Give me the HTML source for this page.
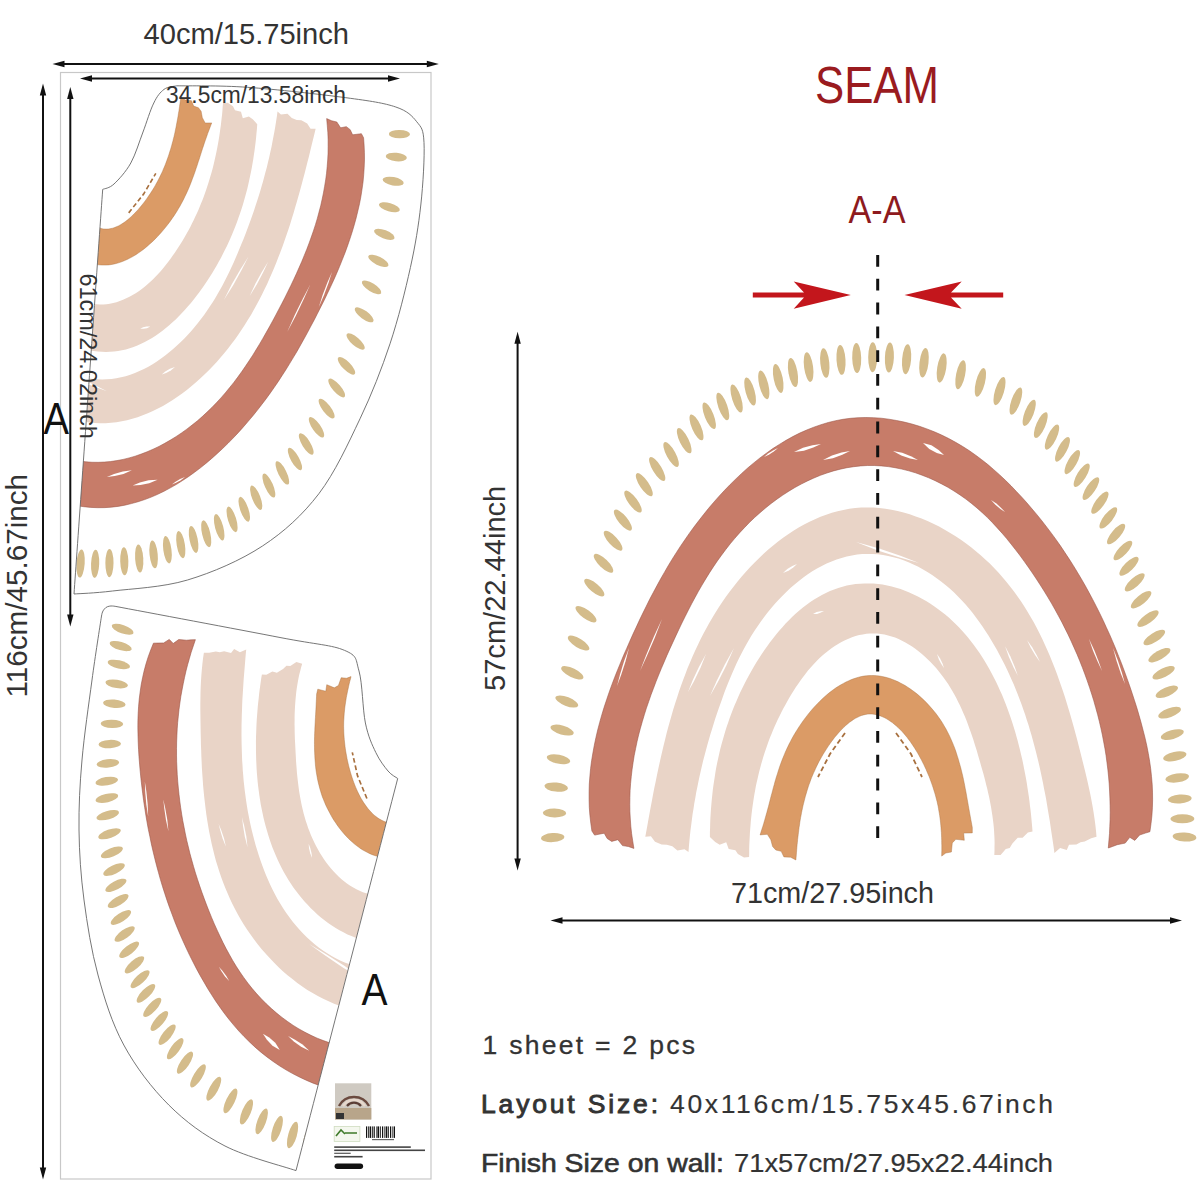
<!DOCTYPE html><html><head><meta charset="utf-8"><style>
html,body{margin:0;padding:0;background:#fff;width:1200px;height:1200px;overflow:hidden}
svg{display:block}
text{font-family:"Liberation Sans",sans-serif;}
</style></head><body>
<svg width="1200" height="1200" viewBox="0 0 1200 1200">
<rect width="1200" height="1200" fill="#fff"/>
<defs>
<g id="rb"><path d="M591.9 831 L590.8 823.2 L589.9 815.3 L589.3 807.5 L589.1 799.6 L589.1 791.8 L589.3 784 L589.9 776.2 L590.6 768.5 L591.6 760.7 L592.9 753 L594.3 745.3 L595.9 737.7 L597.7 730 L599.7 722.4 L601.8 714.9 L604.1 707.3 L606.6 699.8 L609.1 692.4 L611.8 684.9 L614.6 677.5 L617.5 670.2 L620.5 662.9 L623.5 655.6 L626.7 648.4 L629.8 641.3 L633 634.1 L636.3 627.1 L639.5 620.1 L642.9 613.1 L646.3 606.2 L649.7 599.3 L653.3 592.5 L656.9 585.8 L660.6 579 L664.4 572.4 L668.2 565.8 L672.2 559.2 L676.3 552.7 L680.5 546.2 L684.9 539.8 L689.3 533.4 L693.9 527.1 L698.7 520.8 L703.6 514.5 L708.6 508.3 L713.8 502.2 L719.1 496.2 L724.6 490.3 L730.2 484.5 L735.9 478.9 L741.7 473.4 L747.7 468 L753.8 462.9 L760 457.9 L766.4 453.2 L772.8 448.6 L779.4 444.4 L786.1 440.3 L792.8 436.6 L799.7 433.1 L806.7 430 L813.8 427.2 L821 424.7 L828.2 422.5 L835.6 420.7 L843 419.3 L850.5 418.3 L858.1 417.7 L865.8 417.5 L873.5 417.7 L881.2 418.2 L888.9 419.2 L896.6 420.5 L904.3 422.1 L911.9 424 L919.5 426.3 L926.9 428.9 L934.3 431.8 L941.6 435 L948.7 438.5 L955.6 442.3 L962.4 446.3 L969 450.5 L975.4 455 L981.7 459.7 L987.9 464.6 L993.8 469.7 L999.7 474.9 L1005.4 480.3 L1011 485.8 L1016.4 491.5 L1021.8 497.2 L1027 503 L1032.1 509 L1037.1 514.9 L1042 521 L1046.8 527.2 L1051.5 533.4 L1056.1 539.7 L1060.6 546.1 L1064.9 552.6 L1069.2 559.1 L1073.4 565.7 L1077.4 572.3 L1081.4 579 L1085.3 585.8 L1089 592.6 L1092.7 599.5 L1096.3 606.5 L1099.8 613.5 L1103.2 620.5 L1106.4 627.6 L1109.7 634.7 L1112.8 641.9 L1115.8 649.1 L1118.7 656.4 L1121.6 663.7 L1124.3 671 L1127 678.4 L1129.6 685.8 L1132.1 693.2 L1134.5 700.6 L1136.9 708.1 L1139.1 715.6 L1141.2 723.1 L1143.2 730.7 L1145.1 738.2 L1146.8 745.8 L1148.3 753.5 L1149.6 761.1 L1150.7 768.8 L1151.5 776.5 L1152.2 784.3 L1152.5 792.1 L1152.6 799.9 L1152.4 807.8 L1151.9 815.7 L1151 823.7 L1149.9 831.7 L1145.4 833.1 L1139.6 835 L1134.8 840.4 L1129.8 837.3 L1125.2 843.1 L1117.2 844.7 L1112.5 846.5 L1108.3 848 L1108.9 840.8 L1109.5 833.7 L1109.8 826.5 L1110.1 819.4 L1110.2 812.3 L1110.1 805.2 L1109.9 798.1 L1109.6 791 L1109.2 783.9 L1108.6 776.9 L1107.9 769.9 L1107 762.8 L1106.1 755.8 L1105 748.9 L1103.7 741.9 L1102.4 735 L1100.9 728.1 L1099.3 721.2 L1097.6 714.4 L1095.7 707.6 L1093.8 700.8 L1091.7 694 L1089.5 687.3 L1087.2 680.6 L1084.8 673.9 L1082.3 667.3 L1079.7 660.7 L1077 654.2 L1074.1 647.7 L1071.2 641.2 L1068.2 634.8 L1065 628.4 L1061.8 622 L1058.4 615.7 L1055 609.5 L1051.5 603.3 L1047.8 597.1 L1044.1 591 L1040.3 585 L1036.4 579 L1032.4 573 L1028.4 567.2 L1024.2 561.3 L1020 555.5 L1015.6 549.8 L1011.2 544.2 L1006.7 538.6 L1002.1 533.2 L997.3 527.9 L992.5 522.7 L987.5 517.6 L982.3 512.7 L977 508 L971.5 503.4 L965.9 499.1 L960 494.9 L954 491 L947.9 487.3 L941.6 483.9 L935.2 480.7 L928.7 477.8 L922.1 475.2 L915.4 472.8 L908.7 470.8 L901.8 469.1 L895 467.7 L888.1 466.6 L881.2 465.9 L874.3 465.5 L867.4 465.5 L860.6 465.9 L853.7 466.7 L847 467.7 L840.2 469.2 L833.5 470.9 L826.9 473 L820.4 475.3 L813.9 478 L807.5 480.9 L801.2 484.1 L794.9 487.5 L788.8 491.2 L782.8 495.1 L776.9 499.2 L771.1 503.5 L765.5 508 L760 512.7 L754.6 517.5 L749.4 522.5 L744.4 527.7 L739.5 532.9 L734.8 538.3 L730.2 543.8 L725.8 549.4 L721.5 555.2 L717.3 561 L713.3 566.9 L709.4 572.9 L705.7 578.9 L702 585.1 L698.4 591.3 L695 597.5 L691.6 603.8 L688.3 610.2 L685.1 616.6 L681.9 623 L678.8 629.5 L675.8 635.9 L672.8 642.4 L669.8 648.9 L666.9 655.4 L664.1 662 L661.3 668.5 L658.6 675.1 L656 681.6 L653.5 688.2 L651 694.8 L648.7 701.5 L646.4 708.1 L644.3 714.8 L642.3 721.5 L640.4 728.2 L638.6 735 L637 741.8 L635.6 748.6 L634.2 755.5 L633.1 762.4 L632.1 769.3 L631.3 776.3 L630.6 783.3 L630.1 790.3 L629.9 797.4 L629.8 804.6 L629.9 811.7 L630.3 819 L630.8 826.2 L631.6 833.6 L632.7 840.9 L633.9 848.4 L628.3 846.5 L622.5 845.6 L617.9 839.7 L611.7 841.4 L607.2 838.5 L604.2 833.2 L594.6 835.1Z" fill="#c77c69" stroke="#9a5446" stroke-width="0.8" stroke-opacity="0.7"/>
<path d="M645.3 836.7 L646.4 830.7 L647.5 824.7 L648.6 818.6 L649.7 812.5 L650.8 806.4 L652 800.3 L653.1 794.3 L654.3 788.1 L655.6 782 L656.8 775.9 L658.1 769.8 L659.4 763.7 L660.8 757.6 L662.2 751.5 L663.6 745.5 L665.1 739.4 L666.6 733.3 L668.2 727.3 L669.9 721.3 L671.6 715.3 L673.3 709.3 L675.2 703.3 L677.1 697.4 L679 691.5 L681.1 685.6 L683.2 679.7 L685.4 673.9 L687.6 668.1 L690 662.4 L692.4 656.7 L695 651 L697.6 645.4 L700.3 639.8 L703.1 634.2 L706.1 628.7 L709.1 623.3 L712.2 617.9 L715.5 612.5 L718.8 607.2 L722.3 602 L725.9 596.8 L729.6 591.7 L733.5 586.7 L737.4 581.7 L741.5 576.8 L745.7 572 L750 567.3 L754.4 562.7 L759 558.2 L763.6 553.8 L768.3 549.6 L773.2 545.5 L778.1 541.6 L783.1 537.8 L788.2 534.2 L793.4 530.8 L798.7 527.6 L804.1 524.6 L809.5 521.8 L815 519.2 L820.5 516.8 L826.2 514.7 L831.9 512.8 L837.6 511.2 L843.4 509.9 L849.3 508.8 L855.2 508 L861.2 507.5 L867.2 507.4 L873.2 507.5 L879.3 507.9 L885.4 508.7 L891.5 509.7 L897.6 511 L903.6 512.5 L909.7 514.3 L915.7 516.4 L921.6 518.6 L927.5 521.1 L933.4 523.8 L939.1 526.6 L944.7 529.7 L950.2 532.9 L955.6 536.3 L960.9 539.8 L966.1 543.4 L971.1 547.2 L975.9 551.2 L980.7 555.2 L985.3 559.4 L989.8 563.6 L994.1 568 L998.4 572.5 L1002.5 577.2 L1006.5 581.9 L1010.3 586.7 L1014 591.6 L1017.6 596.6 L1021.1 601.6 L1024.5 606.8 L1027.7 612 L1030.8 617.3 L1033.9 622.6 L1036.8 628.1 L1039.6 633.6 L1042.3 639.1 L1044.9 644.8 L1047.5 650.4 L1049.9 656.1 L1052.3 661.9 L1054.6 667.7 L1056.8 673.6 L1058.9 679.5 L1061 685.4 L1063 691.3 L1065 697.3 L1066.8 703.3 L1068.7 709.4 L1070.5 715.4 L1072.2 721.5 L1073.9 727.5 L1075.5 733.6 L1077.2 739.7 L1078.7 745.8 L1080.3 751.9 L1081.8 758 L1083.3 764 L1084.8 770.1 L1086.3 776.2 L1087.7 782.2 L1089 788.3 L1090.3 794.3 L1091.5 800.4 L1092.6 806.4 L1093.6 812.5 L1094.5 818.6 L1095.3 824.6 L1096 830.7 L1096.5 836.8 L1091.2 838.3 L1084.7 841.6 L1080.5 842.2 L1076.4 844.4 L1069 844.8 L1066.8 849.9 L1060.1 848.1 L1054.4 852.9 L1053.7 847.5 L1052.9 842.1 L1052.1 836.8 L1051.3 831.4 L1050.5 826 L1049.7 820.6 L1048.8 815.2 L1047.9 809.9 L1047 804.5 L1046.1 799.1 L1045.1 793.8 L1044 788.4 L1043 783.1 L1041.9 777.8 L1040.8 772.4 L1039.6 767.1 L1038.4 761.8 L1037.1 756.5 L1035.8 751.3 L1034.4 746 L1033 740.7 L1031.6 735.5 L1030 730.3 L1028.5 725.1 L1026.8 719.9 L1025.2 714.8 L1023.4 709.7 L1021.6 704.5 L1019.7 699.5 L1017.8 694.4 L1015.8 689.4 L1013.7 684.3 L1011.5 679.4 L1009.3 674.4 L1007 669.5 L1004.6 664.6 L1002.1 659.7 L999.6 654.9 L997 650 L994.2 645.3 L991.4 640.5 L988.6 635.8 L985.6 631.2 L982.5 626.6 L979.3 622 L976 617.5 L972.7 613.1 L969.2 608.8 L965.6 604.6 L961.9 600.5 L958 596.5 L954.1 592.6 L950 588.8 L945.8 585.2 L941.4 581.7 L937 578.4 L932.5 575.2 L927.8 572.2 L923.1 569.4 L918.3 566.8 L913.4 564.4 L908.5 562.3 L903.5 560.3 L898.5 558.6 L893.4 557.2 L888.2 555.9 L883.1 555 L877.9 554.3 L872.7 554 L867.5 553.9 L862.3 554.1 L857.1 554.6 L851.9 555.4 L846.7 556.5 L841.6 557.9 L836.6 559.5 L831.6 561.4 L826.6 563.5 L821.8 565.9 L817 568.5 L812.3 571.3 L807.8 574.3 L803.3 577.5 L798.9 580.9 L794.6 584.4 L790.4 588.1 L786.3 591.9 L782.3 595.9 L778.4 599.9 L774.7 604.1 L771.1 608.3 L767.6 612.6 L764.2 617 L760.9 621.5 L757.8 626 L754.7 630.5 L751.8 635.1 L749 639.8 L746.3 644.5 L743.7 649.2 L741.2 654 L738.8 658.8 L736.5 663.6 L734.3 668.5 L732.1 673.4 L730 678.4 L728 683.3 L726 688.3 L724.1 693.3 L722.3 698.4 L720.5 703.5 L718.7 708.6 L716.9 713.7 L715.2 718.8 L713.6 724 L712 729.2 L710.4 734.3 L708.9 739.6 L707.4 744.8 L706 750 L704.6 755.3 L703.2 760.6 L701.9 765.9 L700.7 771.2 L699.5 776.5 L698.4 781.8 L697.3 787.2 L696.2 792.5 L695.3 797.9 L694.3 803.3 L693.5 808.7 L692.6 814.1 L691.9 819.5 L691.2 824.9 L690.5 830.3 L689.9 835.7 L689.4 841.1 L688.9 846.5 L688.5 852 L684.5 849.2 L677.4 850.6 L672.3 846.3 L666.8 844.7 L661.6 844.6 L655 841.7 L650.9 836.3Z" fill="#e9d4c7"/>
<path d="M709.9 837 L709.9 832.2 L710.1 827.5 L710.2 822.7 L710.4 818 L710.7 813.3 L711 808.7 L711.4 804 L711.8 799.4 L712.3 794.7 L712.8 790.1 L713.4 785.5 L714.1 780.9 L714.8 776.4 L715.5 771.8 L716.3 767.3 L717.2 762.8 L718.2 758.3 L719.2 753.8 L720.2 749.3 L721.4 744.8 L722.6 740.4 L723.9 736 L725.2 731.5 L726.6 727.1 L728.1 722.7 L729.6 718.3 L731.2 714 L732.9 709.6 L734.6 705.3 L736.5 701 L738.4 696.6 L740.3 692.3 L742.4 688 L744.5 683.8 L746.7 679.5 L749 675.2 L751.4 671 L753.8 666.8 L756.3 662.6 L758.9 658.4 L761.6 654.3 L764.3 650.2 L767.2 646.2 L770 642.2 L773 638.4 L776.1 634.5 L779.2 630.8 L782.4 627.2 L785.6 623.6 L788.9 620.2 L792.3 616.8 L795.8 613.6 L799.3 610.5 L802.9 607.6 L806.6 604.8 L810.3 602.1 L814.1 599.5 L818 597.2 L821.9 595 L825.9 592.9 L830 591.1 L834.1 589.4 L838.3 587.9 L842.5 586.7 L846.8 585.6 L851.2 584.7 L855.6 584.1 L860 583.7 L864.5 583.4 L869 583.4 L873.6 583.6 L878.1 584 L882.6 584.6 L887.2 585.5 L891.7 586.5 L896.1 587.7 L900.6 589.1 L905 590.7 L909.3 592.5 L913.6 594.4 L917.9 596.5 L922 598.7 L926.1 601.1 L930.1 603.6 L934.1 606.2 L937.9 608.9 L941.6 611.7 L945.2 614.6 L948.8 617.6 L952.2 620.8 L955.6 624 L958.9 627.3 L962.1 630.7 L965.2 634.2 L968.2 637.8 L971.1 641.4 L974 645.2 L976.7 649 L979.4 652.8 L982 656.8 L984.5 660.8 L987 664.9 L989.3 669 L991.6 673.2 L993.8 677.4 L996 681.7 L998 686 L1000 690.4 L1002 694.8 L1003.8 699.3 L1005.6 703.8 L1007.3 708.3 L1009 712.9 L1010.6 717.4 L1012.1 722 L1013.6 726.7 L1015 731.3 L1016.3 736 L1017.6 740.6 L1018.8 745.3 L1020 750 L1021.1 754.7 L1022.2 759.3 L1023.2 764 L1024.1 768.7 L1025 773.3 L1025.9 778 L1026.7 782.6 L1027.4 787.2 L1028.1 791.8 L1028.8 796.3 L1029.4 800.8 L1029.9 805.3 L1030.5 809.8 L1031 814.2 L1031.4 818.6 L1031.8 822.9 L1032.2 827.2 L1032.5 831.5 L1027.9 832.5 L1022.6 837.7 L1017.7 837.8 L1012.4 843.6 L1009.7 847.9 L1005.8 849 L1000.6 855 L994.3 854.9 L994.5 850.9 L994.5 846.9 L994.6 842.9 L994.5 839 L994.3 835.1 L994.1 831.2 L993.8 827.3 L993.4 823.4 L992.9 819.6 L992.4 815.7 L991.8 811.9 L991.2 808.1 L990.5 804.2 L989.8 800.4 L989 796.6 L988.1 792.8 L987.3 789 L986.3 785.2 L985.4 781.4 L984.4 777.6 L983.4 773.8 L982.3 770 L981.2 766.2 L980.1 762.3 L979 758.5 L977.9 754.7 L976.8 750.8 L975.6 747 L974.4 743.2 L973.2 739.3 L971.9 735.5 L970.6 731.7 L969.2 727.9 L967.8 724.1 L966.4 720.3 L964.9 716.6 L963.3 712.9 L961.7 709.2 L960 705.5 L958.2 701.9 L956.4 698.3 L954.5 694.8 L952.5 691.2 L950.4 687.8 L948.3 684.3 L946 681 L943.7 677.7 L941.2 674.4 L938.7 671.2 L936.1 668.1 L933.3 665 L930.5 662 L927.6 659.2 L924.7 656.4 L921.6 653.7 L918.5 651.2 L915.3 648.8 L912.1 646.5 L908.8 644.4 L905.4 642.5 L902 640.7 L898.6 639.1 L895.1 637.6 L891.6 636.4 L888.1 635.4 L884.5 634.5 L880.9 633.9 L877.3 633.5 L873.7 633.4 L870 633.5 L866.4 633.8 L862.8 634.4 L859.2 635.1 L855.6 636.1 L852 637.3 L848.5 638.7 L845 640.3 L841.5 642.1 L838.1 644 L834.8 646.1 L831.5 648.3 L828.3 650.7 L825.1 653.2 L822.1 655.8 L819.1 658.6 L816.2 661.5 L813.4 664.4 L810.7 667.5 L808 670.6 L805.4 673.9 L802.9 677.2 L800.5 680.5 L798.1 683.9 L795.8 687.3 L793.6 690.8 L791.4 694.3 L789.3 697.8 L787.2 701.4 L785.3 704.9 L783.3 708.5 L781.5 712.1 L779.7 715.7 L777.9 719.3 L776.2 722.9 L774.6 726.5 L773 730.2 L771.5 733.9 L770 737.6 L768.6 741.3 L767.3 745 L766 748.7 L764.7 752.4 L763.5 756.2 L762.4 759.9 L761.3 763.7 L760.3 767.5 L759.3 771.3 L758.4 775.1 L757.5 778.9 L756.6 782.7 L755.8 786.6 L755.1 790.4 L754.4 794.3 L753.8 798.1 L753.2 802 L752.6 805.9 L752.1 809.8 L751.6 813.7 L751.2 817.6 L750.8 821.5 L750.5 825.4 L750.2 829.3 L749.9 833.2 L749.7 837.2 L749.5 841.1 L749.3 845 L749.2 849 L749.2 852.9 L749.1 856.9 L744 857.6 L737.9 854.1 L735.4 850.2 L728.7 849.1 L726.2 842.2 L719.7 844.7 L715.2 842Z" fill="#e9d4c7"/>
<path d="M760.1 834.9 L761 832.1 L761.9 829.2 L762.8 826.4 L763.7 823.6 L764.5 820.7 L765.3 817.9 L766.1 815.1 L766.9 812.3 L767.6 809.6 L768.4 806.8 L769.1 804 L769.8 801.2 L770.5 798.5 L771.2 795.7 L772 793 L772.7 790.2 L773.4 787.5 L774.2 784.8 L774.9 782 L775.7 779.3 L776.5 776.6 L777.4 773.9 L778.2 771.2 L779.1 768.4 L780 765.7 L781 763 L782 760.3 L783.1 757.6 L784.2 754.9 L785.3 752.2 L786.5 749.5 L787.8 746.8 L789.1 744.1 L790.5 741.4 L791.9 738.7 L793.4 736 L795 733.3 L796.6 730.7 L798.3 728 L800 725.4 L801.8 722.8 L803.6 720.2 L805.5 717.7 L807.4 715.2 L809.4 712.7 L811.4 710.3 L813.4 708 L815.5 705.7 L817.7 703.4 L819.9 701.2 L822.1 699.1 L824.3 697 L826.6 695 L828.9 693.1 L831.2 691.3 L833.6 689.5 L836 687.8 L838.4 686.3 L840.9 684.8 L843.4 683.4 L845.9 682.1 L848.4 680.9 L850.9 679.8 L853.5 678.8 L856 678 L858.6 677.2 L861.2 676.6 L863.8 676.1 L866.4 675.8 L869 675.6 L871.6 675.5 L874.3 675.5 L876.9 675.7 L879.5 676 L882.1 676.5 L884.8 677.1 L887.4 677.7 L890 678.5 L892.6 679.5 L895.1 680.5 L897.7 681.6 L900.2 682.9 L902.7 684.2 L905.2 685.6 L907.7 687.2 L910.1 688.8 L912.5 690.5 L914.9 692.3 L917.2 694.1 L919.5 696.1 L921.7 698.1 L923.9 700.1 L926.1 702.3 L928.2 704.5 L930.2 706.8 L932.2 709.1 L934.2 711.4 L936.1 713.8 L937.9 716.3 L939.7 718.8 L941.4 721.3 L943 723.9 L944.5 726.5 L946 729.1 L947.4 731.8 L948.8 734.5 L950.1 737.2 L951.3 739.9 L952.5 742.7 L953.6 745.4 L954.7 748.2 L955.7 751 L956.6 753.8 L957.5 756.7 L958.4 759.5 L959.2 762.4 L960 765.2 L960.8 768.1 L961.5 771 L962.2 773.8 L962.9 776.7 L963.5 779.6 L964.1 782.5 L964.7 785.4 L965.2 788.3 L965.8 791.2 L966.3 794 L966.8 796.9 L967.3 799.7 L967.8 802.6 L968.3 805.4 L968.8 808.3 L969.3 811.1 L969.8 813.9 L970.3 816.6 L970.8 819.4 L971.3 822.1 L971.8 824.8 L972.3 827.5 L972.3 832.9 L963.7 833.1 L964.3 840.3 L955.9 839.3 L952.3 842.9 L951.4 852 L945.8 853 L941.7 856.1 L941.7 853.4 L941.8 850.7 L941.8 848 L941.8 845.4 L941.7 842.8 L941.7 840.2 L941.6 837.7 L941.5 835.1 L941.4 832.6 L941.2 830.2 L941 827.7 L940.8 825.3 L940.6 822.9 L940.3 820.4 L940 818.1 L939.7 815.7 L939.3 813.3 L938.9 811 L938.5 808.6 L938.1 806.3 L937.6 804 L937.1 801.7 L936.5 799.4 L935.9 797.1 L935.3 794.8 L934.6 792.5 L933.9 790.2 L933.2 787.9 L932.4 785.6 L931.6 783.3 L930.8 781 L929.9 778.6 L929 776.3 L928 774 L927 771.7 L926 769.3 L924.9 766.9 L923.8 764.6 L922.6 762.2 L921.4 759.8 L920.1 757.5 L918.8 755.1 L917.5 752.8 L916.1 750.5 L914.7 748.2 L913.2 745.9 L911.7 743.7 L910.2 741.5 L908.6 739.4 L907 737.3 L905.3 735.2 L903.6 733.2 L901.9 731.3 L900.1 729.5 L898.3 727.7 L896.4 726 L894.5 724.4 L892.6 722.8 L890.6 721.4 L888.6 720.1 L886.6 718.8 L884.6 717.7 L882.5 716.8 L880.4 715.9 L878.3 715.2 L876.2 714.7 L874.1 714.3 L872 714 L869.9 714 L867.8 714.1 L865.7 714.4 L863.6 714.9 L861.5 715.5 L859.5 716.3 L857.5 717.3 L855.4 718.3 L853.5 719.5 L851.5 720.9 L849.5 722.3 L847.6 723.9 L845.7 725.5 L843.8 727.3 L842 729.1 L840.2 731 L838.4 733 L836.7 735 L834.9 737.1 L833.3 739.2 L831.6 741.4 L830.1 743.6 L828.5 745.8 L827 748.1 L825.6 750.3 L824.2 752.6 L822.8 754.8 L821.5 757.1 L820.2 759.4 L819 761.6 L817.8 763.9 L816.7 766.2 L815.6 768.5 L814.6 770.8 L813.5 773.1 L812.6 775.3 L811.6 777.6 L810.7 779.9 L809.9 782.3 L809 784.6 L808.2 786.9 L807.5 789.2 L806.8 791.5 L806.1 793.9 L805.4 796.2 L804.8 798.6 L804.2 800.9 L803.6 803.3 L803 805.7 L802.5 808 L802 810.4 L801.5 812.8 L801.1 815.2 L800.6 817.6 L800.2 820 L799.8 822.5 L799.5 824.9 L799.1 827.3 L798.8 829.8 L798.5 832.3 L798.2 834.7 L797.9 837.2 L797.6 839.7 L797.4 842.2 L797.1 844.7 L796.9 847.2 L796.7 849.8 L796.5 852.3 L796.3 854.9 L796.1 857.4 L795.9 860 L790.6 857.2 L783.9 856.9 L781.2 851.3 L775.8 850 L772.6 846.5 L770.8 839.7 L767.3 834.3Z" fill="#db9b66" stroke="#a87040" stroke-width="0.7" stroke-opacity="0.6"/>
<path d="M794 452 L803.9 450.7 L813.3 447.6 L821 444 L812.5 445.2 L803 447.7Z" fill="#fff"/>
<path d="M823 460 L832.9 458.2 L842.3 454.8 L850 451 L841.5 452.6 L832 455.5Z" fill="#fff"/>
<path d="M764 457 L769.3 454.5 L774.1 451.2 L778 448 L773.5 450.2 L768.5 453.2Z" fill="#fff"/>
<path d="M893 451 L901.3 455.5 L910.1 458.4 L918 460 L910.9 456.2 L902.2 452.8Z" fill="#fff"/>
<path d="M923 443 L929.3 449.1 L936.8 452.9 L944 455 L938.6 449.9 L931.4 445.3Z" fill="#fff"/>
<path d="M991 500 L995.4 504.8 L1000.4 508.9 L1005 512 L1001.2 507.9 L996.4 503.6Z" fill="#fff"/>
<path d="M662 619 L653.7 636.9 L646.1 655.2 L640 671 L647.1 655.6 L654.9 637.5Z" fill="#fff"/>
<path d="M629 648 L624.1 661.1 L620 674.4 L617 686 L621.2 674.8 L625.5 661.5Z" fill="#fff"/>
<path d="M1089 639 L1092.9 650.5 L1097.6 661.6 L1102 671 L1098.6 661.2 L1094.2 649.9Z" fill="#fff"/>
<path d="M1113 648 L1116.5 660.8 L1120.8 673.4 L1125 684 L1122 673 L1117.9 660.4Z" fill="#fff"/>
<path d="M856 542 L877.7 550.5 L899.8 557.6 L919 563 L900.4 555.8 L878.4 548.2Z" fill="#fff"/>
<path d="M783 573 L788.5 570.8 L793.3 567.4 L797 564 L792.3 566 L787.3 568.9Z" fill="#fff"/>
<path d="M706 654 L698.9 666.9 L692.7 680.3 L688 692 L694.1 680.9 L700.5 667.7Z" fill="#fff"/>
<path d="M734 648 L724.8 664.4 L716.5 681.3 L710 696 L717.9 681.9 L726.4 665.2Z" fill="#fff"/>
<path d="M1005 646 L1008.8 656.8 L1013.5 667.2 L1018 676 L1014.7 666.8 L1010.3 656.2Z" fill="#fff"/>
<path d="M1027 640 L1030.9 648.1 L1035.6 655.7 L1040 662 L1036.6 655.1 L1032.2 647.3Z" fill="#fff"/>
<path d="M813 614 L817.1 613.9 L820.9 612.6 L824 611 L820.5 611.2 L816.6 612Z" fill="#fff"/>
<path d="M937 654 L938.8 659.2 L941.3 664.1 L944 668 L942.5 663.5 L940.1 658.6Z" fill="#fff"/>
<path d="M845 733 L830 754 L818 777" fill="none" stroke="#a8703f" stroke-width="1.8" stroke-dasharray="5 3"/>
<path d="M896 733 L911 754 L922 777" fill="none" stroke="#a8703f" stroke-width="1.8" stroke-dasharray="5 3"/>
<ellipse cx="552.7" cy="837.6" rx="11.7" ry="4.5" transform="rotate(-3.2 552.7 837.6)" fill="#d4bc8b"/>
<ellipse cx="554.5" cy="813" rx="11.7" ry="4.5" transform="rotate(1.3 554.5 813)" fill="#d4bc8b"/>
<ellipse cx="556.2" cy="787.1" rx="11.8" ry="4.5" transform="rotate(6 556.2 787.1)" fill="#d4bc8b"/>
<ellipse cx="558.5" cy="759.2" rx="11.9" ry="4.5" transform="rotate(11.1 558.5 759.2)" fill="#d4bc8b"/>
<ellipse cx="562.1" cy="730.1" rx="12" ry="4.5" transform="rotate(16.3 562.1 730.1)" fill="#d4bc8b"/>
<ellipse cx="566.8" cy="701.5" rx="12.1" ry="4.5" transform="rotate(21.3 566.8 701.5)" fill="#d4bc8b"/>
<ellipse cx="572.3" cy="672.8" rx="12.2" ry="4.5" transform="rotate(26.3 572.3 672.8)" fill="#d4bc8b"/>
<ellipse cx="578.6" cy="643.1" rx="12.3" ry="4.5" transform="rotate(31.3 578.6 643.1)" fill="#d4bc8b"/>
<ellipse cx="586" cy="614.2" rx="12.5" ry="4.5" transform="rotate(35.9 586 614.2)" fill="#d4bc8b"/>
<ellipse cx="594.3" cy="587.6" rx="12.6" ry="4.5" transform="rotate(40.1 594.3 587.6)" fill="#d4bc8b"/>
<ellipse cx="603.5" cy="563.3" rx="12.8" ry="4.5" transform="rotate(43.9 603.5 563.3)" fill="#d4bc8b"/>
<ellipse cx="613.1" cy="540.7" rx="12.9" ry="4.5" transform="rotate(47.4 613.1 540.7)" fill="#d4bc8b"/>
<ellipse cx="622.9" cy="520.1" rx="13.1" ry="4.5" transform="rotate(50.5 622.9 520.1)" fill="#d4bc8b"/>
<ellipse cx="633" cy="501.6" rx="13.3" ry="4.5" transform="rotate(53.3 633 501.6)" fill="#d4bc8b"/>
<ellipse cx="644.3" cy="484.7" rx="13.6" ry="4.5" transform="rotate(56 644.3 484.7)" fill="#d4bc8b"/>
<ellipse cx="657.2" cy="469" rx="13.8" ry="4.5" transform="rotate(58.8 657.2 469)" fill="#d4bc8b"/>
<ellipse cx="671.1" cy="454.5" rx="13.9" ry="4.5" transform="rotate(61.4 671.1 454.5)" fill="#d4bc8b"/>
<ellipse cx="684.2" cy="440.7" rx="13.9" ry="4.5" transform="rotate(63.9 684.2 440.7)" fill="#d4bc8b"/>
<ellipse cx="696.5" cy="427.4" rx="14" ry="4.5" transform="rotate(66.2 696.5 427.4)" fill="#d4bc8b"/>
<ellipse cx="709.2" cy="415.8" rx="14.2" ry="4.5" transform="rotate(68.3 709.2 415.8)" fill="#d4bc8b"/>
<ellipse cx="722.8" cy="406.4" rx="14.5" ry="4.5" transform="rotate(70.4 722.8 406.4)" fill="#d4bc8b"/>
<ellipse cx="736.6" cy="398.5" rx="14.6" ry="4.5" transform="rotate(72.4 736.6 398.5)" fill="#d4bc8b"/>
<ellipse cx="750.1" cy="391.5" rx="14.6" ry="4.5" transform="rotate(74.4 750.1 391.5)" fill="#d4bc8b"/>
<ellipse cx="763.8" cy="384.9" rx="14.7" ry="4.5" transform="rotate(76.3 763.8 384.9)" fill="#d4bc8b"/>
<ellipse cx="778.2" cy="378.5" rx="14.7" ry="4.5" transform="rotate(78.3 778.2 378.5)" fill="#d4bc8b"/>
<ellipse cx="793" cy="372.5" rx="14.8" ry="4.5" transform="rotate(80.2 793 372.5)" fill="#d4bc8b"/>
<ellipse cx="808.6" cy="367.1" rx="14.9" ry="4.5" transform="rotate(82.3 808.6 367.1)" fill="#d4bc8b"/>
<ellipse cx="824.8" cy="363" rx="14.9" ry="4.5" transform="rotate(84.4 824.8 363)" fill="#d4bc8b"/>
<ellipse cx="841" cy="359.9" rx="15" ry="4.5" transform="rotate(86.4 841 359.9)" fill="#d4bc8b"/>
<ellipse cx="856.7" cy="358" rx="15" ry="4.5" transform="rotate(88.4 856.7 358)" fill="#d4bc8b"/>
<ellipse cx="872.7" cy="357.2" rx="15" ry="4.5" transform="rotate(90.3 872.7 357.2)" fill="#d4bc8b"/>
<ellipse cx="889.4" cy="357.6" rx="15" ry="4.5" transform="rotate(92.4 889.4 357.6)" fill="#d4bc8b"/>
<ellipse cx="906.6" cy="359.3" rx="15" ry="4.5" transform="rotate(94.5 906.6 359.3)" fill="#d4bc8b"/>
<ellipse cx="924" cy="362.7" rx="14.9" ry="4.5" transform="rotate(96.7 924 362.7)" fill="#d4bc8b"/>
<ellipse cx="941.7" cy="368" rx="14.8" ry="4.5" transform="rotate(99 941.7 368)" fill="#d4bc8b"/>
<ellipse cx="960.6" cy="374.7" rx="14.8" ry="4.5" transform="rotate(101.5 960.6 374.7)" fill="#d4bc8b"/>
<ellipse cx="980.4" cy="382.4" rx="14.7" ry="4.5" transform="rotate(104.2 980.4 382.4)" fill="#d4bc8b"/>
<ellipse cx="999.5" cy="391.1" rx="14.6" ry="4.5" transform="rotate(106.8 999.5 391.1)" fill="#d4bc8b"/>
<ellipse cx="1015.9" cy="401.1" rx="14.3" ry="4.5" transform="rotate(109.2 1015.9 401.1)" fill="#d4bc8b"/>
<ellipse cx="1029.2" cy="412.8" rx="14" ry="4.5" transform="rotate(111.3 1029.2 412.8)" fill="#d4bc8b"/>
<ellipse cx="1040.8" cy="425.1" rx="13.9" ry="4.5" transform="rotate(113.4 1040.8 425.1)" fill="#d4bc8b"/>
<ellipse cx="1052" cy="437.1" rx="13.8" ry="4.5" transform="rotate(115.4 1052 437.1)" fill="#d4bc8b"/>
<ellipse cx="1062.5" cy="449.3" rx="13.7" ry="4.5" transform="rotate(117.4 1062.5 449.3)" fill="#d4bc8b"/>
<ellipse cx="1072.3" cy="462.1" rx="13.6" ry="4.5" transform="rotate(119.5 1072.3 462.1)" fill="#d4bc8b"/>
<ellipse cx="1081.7" cy="475.2" rx="13.5" ry="4.5" transform="rotate(121.5 1081.7 475.2)" fill="#d4bc8b"/>
<ellipse cx="1090.9" cy="488.6" rx="13.4" ry="4.5" transform="rotate(123.7 1090.9 488.6)" fill="#d4bc8b"/>
<ellipse cx="1099.9" cy="502.7" rx="13.3" ry="4.5" transform="rotate(125.9 1099.9 502.7)" fill="#d4bc8b"/>
<ellipse cx="1108.3" cy="517.9" rx="13.1" ry="4.5" transform="rotate(128.3 1108.3 517.9)" fill="#d4bc8b"/>
<ellipse cx="1116.1" cy="534.1" rx="12.9" ry="4.5" transform="rotate(130.7 1116.1 534.1)" fill="#d4bc8b"/>
<ellipse cx="1122.9" cy="550.5" rx="12.8" ry="4.5" transform="rotate(133.2 1122.9 550.5)" fill="#d4bc8b"/>
<ellipse cx="1129" cy="566.3" rx="12.7" ry="4.5" transform="rotate(135.6 1129 566.3)" fill="#d4bc8b"/>
<ellipse cx="1134.7" cy="582.3" rx="12.7" ry="4.5" transform="rotate(138.1 1134.7 582.3)" fill="#d4bc8b"/>
<ellipse cx="1141.1" cy="599.7" rx="12.7" ry="4.5" transform="rotate(140.9 1141.1 599.7)" fill="#d4bc8b"/>
<ellipse cx="1148" cy="618.6" rx="12.7" ry="4.5" transform="rotate(144.1 1148 618.6)" fill="#d4bc8b"/>
<ellipse cx="1154.3" cy="637.5" rx="12.5" ry="4.5" transform="rotate(147.3 1154.3 637.5)" fill="#d4bc8b"/>
<ellipse cx="1159.4" cy="655.2" rx="12.4" ry="4.5" transform="rotate(150.3 1159.4 655.2)" fill="#d4bc8b"/>
<ellipse cx="1163.6" cy="672.8" rx="12.2" ry="4.5" transform="rotate(153.4 1163.6 672.8)" fill="#d4bc8b"/>
<ellipse cx="1166.8" cy="691.8" rx="12" ry="4.5" transform="rotate(156.6 1166.8 691.8)" fill="#d4bc8b"/>
<ellipse cx="1169.6" cy="712.7" rx="11.9" ry="4.5" transform="rotate(160.3 1169.6 712.7)" fill="#d4bc8b"/>
<ellipse cx="1172.3" cy="734.6" rx="11.9" ry="4.5" transform="rotate(164.2 1172.3 734.6)" fill="#d4bc8b"/>
<ellipse cx="1174.8" cy="756.4" rx="11.9" ry="4.5" transform="rotate(168.2 1174.8 756.4)" fill="#d4bc8b"/>
<ellipse cx="1177.2" cy="777.9" rx="11.9" ry="4.5" transform="rotate(172.2 1177.2 777.9)" fill="#d4bc8b"/>
<ellipse cx="1179.8" cy="799" rx="11.9" ry="4.5" transform="rotate(176.1 1179.8 799)" fill="#d4bc8b"/>
<ellipse cx="1182.4" cy="818.8" rx="11.9" ry="4.5" transform="rotate(179.8 1182.4 818.8)" fill="#d4bc8b"/>
<ellipse cx="1184.5" cy="837" rx="11.9" ry="4.5" transform="rotate(183.1 1184.5 837)" fill="#d4bc8b"/></g>
<clipPath id="leftHalf"><rect x="0" y="0" width="886" height="1200"/></clipPath>
<clipPath id="rightHalf"><rect x="864" y="0" width="400" height="1200"/></clipPath>

<clipPath id="topClip"><path d="M74 594 C77.1 550 87.9 397.4 92.7 330 C97.5 262.6 101 212.8 102.7 189.4 L102.7 189.4 C104.6 188.5 109.3 188.4 114 184 C118.7 179.6 126 171.7 130.8 163 C135.6 154.3 139.2 142 143 132 C146.8 122 150.2 110.1 153.8 103 C157.2 95.9 160.2 92.3 164 89.4 C167.8 86.5 174.6 86.4 176.7 85.8 L176.7 85.8 C188.5 86 219.3 85.3 247.5 87.3 C275.7 89.3 321.1 94.4 345.8 97.7 C370.5 101 384 103 395.8 107 C407.6 111 412 115.8 416.7 121.7 C421.4 127.6 423.3 128.6 424 142.5 C424.7 156.4 423.1 184.2 420.8 205 C418.5 225.8 415.5 244.4 410.4 267.5 C405.3 290.6 398.4 318.5 390 343.8 C381.6 369 371.9 393.8 360 418.8 C348.1 443.8 335 472.5 318.8 493.8 C302.5 515 284.4 531.6 262.5 546 C240.6 560.4 212.5 572.5 187.5 580 C162.5 587.5 131.4 588.7 112.5 591 C93.6 593.3 80.4 593.5 74 594 Z"/></clipPath>
<clipPath id="botClip"><path d="M397.7 778.5 C380.8 843.9 312.9 1105.2 296 1170.6 L296 1170.6 C284.2 1166.5 246.2 1156.9 225 1146 C203.8 1135.1 185.6 1121.8 168.8 1105 C151.9 1088.2 135.5 1066.7 123.8 1045 C112 1023.3 104.6 999.2 98 975 C91.4 950.8 87.2 924.2 84 900 C80.8 875.8 79.3 853.3 79 830 C78.7 806.7 79.8 785 82 760 C84.2 735 88.8 704 92 680 C95.2 656 99.9 626.7 101.5 616 L101.5 616 C101.6 615.5 101.9 614.1 102.1 613.2 C102.4 612.4 102.7 611.6 103 610.9 C103.4 610.2 103.8 609.6 104.3 609.1 C104.7 608.5 105.2 608 105.8 607.6 C106.4 607.2 107 606.9 107.7 606.6 C108.3 606.4 109 606.2 109.8 606.1 C110.6 606 111.4 605.9 112.3 606 C113.2 606 114.6 606.2 115.1 606.3 L115.1 606.3 C142.6 611.5 241.8 630.1 280 637.5 C318.2 644.9 331.4 644.8 344.6 650.4 C357.8 656 355.5 658.9 359 671 C362.5 683.1 362.6 709.4 365.4 723 C368.2 736.6 372 744.5 375.8 752.5 C379.6 760.5 384.4 766.7 388 771 C391.6 775.3 396.1 777.2 397.7 778.5 Z"/></clipPath>
</defs>
<rect x="60.5" y="72.5" width="370.5" height="1106.5" fill="none" stroke="#c8c8c8" stroke-width="1.2"/>
<g clip-path="url(#topClip)"><g transform="matrix(-0.904313 -0.066269 0.061293 -0.937898 847.911627 956.323988)"><use href="#rb" clip-path="url(#leftHalf)"/></g></g>
<path d="M74 594 C77.1 550 87.9 397.4 92.7 330 C97.5 262.6 101 212.8 102.7 189.4 L102.7 189.4 C104.6 188.5 109.3 188.4 114 184 C118.7 179.6 126 171.7 130.8 163 C135.6 154.3 139.2 142 143 132 C146.8 122 150.2 110.1 153.8 103 C157.2 95.9 160.2 92.3 164 89.4 C167.8 86.5 174.6 86.4 176.7 85.8 L176.7 85.8 C188.5 86 219.3 85.3 247.5 87.3 C275.7 89.3 321.1 94.4 345.8 97.7 C370.5 101 384 103 395.8 107 C407.6 111 412 115.8 416.7 121.7 C421.4 127.6 423.3 128.6 424 142.5 C424.7 156.4 423.1 184.2 420.8 205 C418.5 225.8 415.5 244.4 410.4 267.5 C405.3 290.6 398.4 318.5 390 343.8 C381.6 369 371.9 393.8 360 418.8 C348.1 443.8 335 472.5 318.8 493.8 C302.5 515 284.4 531.6 262.5 546 C240.6 560.4 212.5 572.5 187.5 580 C162.5 587.5 131.4 588.7 112.5 591 C93.6 593.3 80.4 593.5 74 594 Z" fill="none" stroke="#666" stroke-width="0.9"/>
<g clip-path="url(#botClip)"><g transform="matrix(-0.923880 -0.265032 0.214293 -0.891834 1037.605050 1689.660170)"><use href="#rb" clip-path="url(#rightHalf)"/></g></g>
<path d="M397.7 778.5 C380.8 843.9 312.9 1105.2 296 1170.6 L296 1170.6 C284.2 1166.5 246.2 1156.9 225 1146 C203.8 1135.1 185.6 1121.8 168.8 1105 C151.9 1088.2 135.5 1066.7 123.8 1045 C112 1023.3 104.6 999.2 98 975 C91.4 950.8 87.2 924.2 84 900 C80.8 875.8 79.3 853.3 79 830 C78.7 806.7 79.8 785 82 760 C84.2 735 88.8 704 92 680 C95.2 656 99.9 626.7 101.5 616 L101.5 616 C101.6 615.5 101.9 614.1 102.1 613.2 C102.4 612.4 102.7 611.6 103 610.9 C103.4 610.2 103.8 609.6 104.3 609.1 C104.7 608.5 105.2 608 105.8 607.6 C106.4 607.2 107 606.9 107.7 606.6 C108.3 606.4 109 606.2 109.8 606.1 C110.6 606 111.4 605.9 112.3 606 C113.2 606 114.6 606.2 115.1 606.3 L115.1 606.3 C142.6 611.5 241.8 630.1 280 637.5 C318.2 644.9 331.4 644.8 344.6 650.4 C357.8 656 355.5 658.9 359 671 C362.5 683.1 362.6 709.4 365.4 723 C368.2 736.6 372 744.5 375.8 752.5 C379.6 760.5 384.4 766.7 388 771 C391.6 775.3 396.1 777.2 397.7 778.5 Z" fill="none" stroke="#666" stroke-width="0.9"/>
<use href="#rb"/>
<rect x="335" y="1083.3" width="36.3" height="36.2" fill="#cfcac2"/>
<rect x="335" y="1108" width="36.3" height="11.5" fill="#b8a58a"/>
<path d="M339 1106 A17 17 0 0 1 369 1106" fill="none" stroke="#6b4a3f" stroke-width="2.4"/>
<path d="M343 1106 A13 13 0 0 1 365 1106" fill="none" stroke="#e8d8cc" stroke-width="2.4"/>
<path d="M347 1106 A9 9 0 0 1 361 1106" fill="none" stroke="#5c3e35" stroke-width="2.2"/>
<rect x="336" y="1113" width="8" height="6" fill="#333"/>
<rect x="334.2" y="1126.4" width="25.7" height="15.1" fill="#f4f7ee" stroke="#cfdcc0" stroke-width="0.8"/>
<path d="M336 1136 L341 1130 L345 1134 M345 1133 h12" fill="none" stroke="#3e7a2a" stroke-width="1.6"/>
<g fill="#111"><rect x="366" y="1126.4" width="1.2" height="11.5"/><rect x="368" y="1126.4" width="0.8" height="11.5"/><rect x="369.6" y="1126.4" width="1.6" height="11.5"/><rect x="372" y="1126.4" width="0.8" height="11.5"/><rect x="373.6" y="1126.4" width="1.2" height="11.5"/><rect x="376" y="1126.4" width="0.6" height="11.5"/><rect x="377.4" y="1126.4" width="1.8" height="11.5"/><rect x="380" y="1126.4" width="0.8" height="11.5"/><rect x="382" y="1126.4" width="1.2" height="11.5"/><rect x="384.2" y="1126.4" width="0.6" height="11.5"/><rect x="385.6" y="1126.4" width="1.8" height="11.5"/><rect x="388.2" y="1126.4" width="0.8" height="11.5"/><rect x="390" y="1126.4" width="1.2" height="11.5"/><rect x="392.2" y="1126.4" width="0.6" height="11.5"/><rect x="393.6" y="1126.4" width="1.4" height="11.5"/></g>
<rect x="372" y="1139" width="22" height="1.2" fill="#666"/>
<rect x="334.2" y="1146.3" width="76.6" height="1.6" fill="#444"/>
<rect x="334.2" y="1149.5" width="90.8" height="1.6" fill="#444"/>
<rect x="334.2" y="1152.7" width="16.5" height="1.2" fill="#555"/>
<rect x="334.2" y="1155.9" width="28.4" height="1.6" fill="#444"/>
<rect x="334.6" y="1163.5" width="28.5" height="5.5" rx="2.75" fill="#111"/>
<line x1="62.5" y1="64" x2="428.8" y2="64" stroke="#111" stroke-width="2"/><path d="M52.5 64L64.5 60.8L64.5 67.2Z" fill="#111"/><path d="M438.8 64L426.8 60.8L426.8 67.2Z" fill="#111"/>
<line x1="90" y1="78.5" x2="390" y2="78.5" stroke="#111" stroke-width="2"/><path d="M80 78.5L92 75.3L92 81.7Z" fill="#111"/><path d="M400 78.5L388 75.3L388 81.7Z" fill="#111"/>
<line x1="43" y1="93.5" x2="43" y2="1169.4" stroke="#111" stroke-width="2"/><path d="M43 83.5L39.8 95.5L46.2 95.5Z" fill="#111"/><path d="M43 1179.4L39.8 1167.4L46.2 1167.4Z" fill="#111"/>
<line x1="70.3" y1="97" x2="70.3" y2="616.6" stroke="#111" stroke-width="2"/><path d="M70.3 87L67.1 99L73.5 99Z" fill="#111"/><path d="M70.3 626.6L67.1 614.6L73.5 614.6Z" fill="#111"/>
<line x1="560.5" y1="920.5" x2="1172" y2="920.5" stroke="#111" stroke-width="2"/><path d="M550.5 920.5L562.5 917.3L562.5 923.7Z" fill="#111"/><path d="M1182 920.5L1170 917.3L1170 923.7Z" fill="#111"/>
<line x1="517.6" y1="341.7" x2="517.6" y2="860.6" stroke="#111" stroke-width="2"/><path d="M517.6 331.7L514.4 343.7L520.8 343.7Z" fill="#111"/><path d="M517.6 870.6L514.4 858.6L520.8 858.6Z" fill="#111"/>
<text x="143.5" y="44" font-size="29" fill="#333" font-weight="normal" textLength="205.5" lengthAdjust="spacingAndGlyphs">40cm/15.75inch</text>
<text x="166" y="103" font-size="23" fill="#333" font-weight="normal" textLength="180" lengthAdjust="spacingAndGlyphs">34.5cm/13.58inch</text>
<g transform="translate(26.7 697.5) rotate(-90)"><text x="0" y="0" font-size="29.5" fill="#333" font-weight="normal" textLength="223.6" lengthAdjust="spacingAndGlyphs">116cm/45.67inch</text></g>
<g transform="translate(79.8 273.5) rotate(90)"><text x="0" y="0" font-size="24.5" fill="#333" font-weight="normal" textLength="165.4" lengthAdjust="spacingAndGlyphs">61cm/24.02inch</text></g>
<g transform="translate(505 691) rotate(-90)"><text x="0" y="0" font-size="29.5" fill="#333" font-weight="normal" textLength="205.3" lengthAdjust="spacingAndGlyphs">57cm/22.44inch</text></g>
<text x="731" y="902.5" font-size="29.7" fill="#333" font-weight="normal" textLength="203" lengthAdjust="spacingAndGlyphs">71cm/27.95inch</text>
<text x="43.5" y="433.7" font-size="45" fill="#111" font-weight="normal" textLength="25.5" lengthAdjust="spacingAndGlyphs">A</text>
<text x="361.5" y="1004.5" font-size="45" fill="#111" font-weight="normal" textLength="26" lengthAdjust="spacingAndGlyphs">A</text>
<text x="815" y="103" font-size="52" fill="#9a1b1f" font-weight="normal" textLength="124" lengthAdjust="spacingAndGlyphs">SEAM</text>
<text x="848.5" y="223.2" font-size="39" fill="#8e1a1e" font-weight="normal" textLength="57" lengthAdjust="spacingAndGlyphs">A-A</text>
<text x="482.5" y="1053.8" font-size="26.5" fill="#333" textLength="212.5" lengthAdjust="spacing" stroke="#333" stroke-width="0.3">1 sheet = 2 pcs</text>
<text x="481" y="1113" font-size="26.5" fill="#333" textLength="177" lengthAdjust="spacing" stroke="#333" stroke-width="0.9">Layout Size:</text>
<text x="670" y="1113" font-size="26.5" fill="#333" textLength="383" lengthAdjust="spacing" stroke="#333" stroke-width="0.2">40x116cm/15.75x45.67inch</text>
<text x="481" y="1172" font-size="26.5" fill="#333" textLength="243" lengthAdjust="spacingAndGlyphs" stroke="#333" stroke-width="0.6">Finish Size on wall:</text>
<text x="734" y="1172" font-size="26.5" fill="#333" textLength="319" lengthAdjust="spacingAndGlyphs" stroke="#333" stroke-width="0.2">71x57cm/27.95x22.44inch</text>
<line x1="877.7" y1="255" x2="877.7" y2="840" stroke="#111" stroke-width="3" stroke-dasharray="11.8 12"/>
<path d="M752.8 292.6 L804 292.6 L793.7 281.5 L850.8 295 L793.7 308.8 L804 297.4 L752.8 297.4Z" fill="#c3161c"/>
<path d="M1003.2 292.6 L951 292.6 L961.7 281.5 L904.5 295 L961.7 308.8 L951 297.4 L1003.2 297.4Z" fill="#c3161c"/>
</svg></body></html>
